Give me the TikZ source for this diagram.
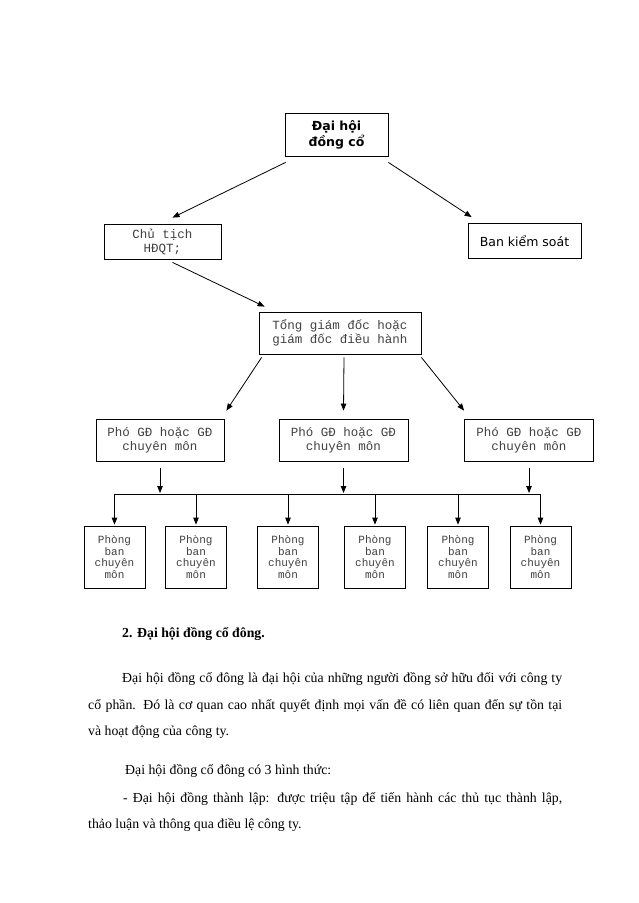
\documentclass[tikz,border=0pt]{standalone}
\usepackage{fontspec}
\setmainfont{Liberation Serif}
\newfontfamily\monof{Liberation Mono}
\newfontfamily\verd{DejaVu Sans}
\usetikzlibrary{arrows.meta,calc}
\tikzset{
  box/.style={draw,line width=0.8pt,inner sep=0pt,align=center},
  mono/.style={font=\monof\fontsize{12.5}{14}\selectfont,text=black!75},
  monosm/.style={font=\monof\fontsize{11}{11.8}\selectfont,text=black!75},
  arr/.style={-{Triangle[length=7pt,width=5.5pt]},line width=0.8pt},
  bodyline/.style={anchor=base west,inner sep=0pt,font=\fontsize{13.8}{16}\selectfont},
  phong/.style={box,monosm,minimum width=61,minimum height=62}
}
\begin{document}
\begin{tikzpicture}[x=1pt,y=-1pt]
\useasboundingbox (0,0) rectangle (638,903);
% top level
\node[box,font=\verd\bfseries\fontsize{12.5}{16}\selectfont,minimum width=103,minimum height=43] (dh) at (336.5,134.5) {Đại hội\\đồng cổ};
\node[box,mono,minimum width=117,minimum height=35] (ct) at (162.5,241.5) {Chủ tịch\\HĐQT;};
\node[box,font=\verd\fontsize{12.5}{14}\selectfont,minimum width=113,minimum height=35] (bks) at (524.5,241) {Ban kiểm soát};
\node[box,mono,minimum width=162,minimum height=42] (tgd) at (340,333) {Tổng giám đốc hoặc\\giám đốc điều hành};
\node[box,mono,minimum width=128,minimum height=42] (p1) at (160,440) {Phó GĐ hoặc GĐ\\chuyên môn};
\node[box,mono,minimum width=129,minimum height=42] (p2) at (343.5,440) {Phó GĐ hoặc GĐ\\chuyên môn};
\node[box,mono,minimum width=129,minimum height=42] (p3) at (529,440) {Phó GĐ hoặc GĐ\\chuyên môn};
\node[phong] (q1) at (114.5,557) {Phòng\\ban\\chuyên\\môn};
\node[phong] (q2) at (196,557) {Phòng\\ban\\chuyên\\môn};
\node[phong] (q3) at (288,557) {Phòng\\ban\\chuyên\\môn};
\node[phong] (q4) at (375,557) {Phòng\\ban\\chuyên\\môn};
\node[phong] (q5) at (458,557) {Phòng\\ban\\chuyên\\môn};
\node[phong] (q6) at (540.5,557) {Phòng\\ban\\chuyên\\môn};
\coordinate (bus) at (0,494);
% connectors
\draw[arr] ($(dh.south west)+(1,6)$) -- ($(ct.north)+(10,-6)$);
\draw[arr] ($(dh.south east)+(0,6)$) -- ($(bks.north west)+(4,-6)$);
\draw[arr] ($(ct.south)+(10,3)$) -- ($(tgd.north west)+(6,-5)$);
\draw[arr] ($(tgd.south west)+(3,3)$) -- ($(p1.north east)+(2,-8)$);
\draw[arr] ($(tgd.south)+(4,3)$) -- ($(p2.north)+(0,-8)$);
\draw[arr] ($(tgd.south east)+(0,3)$) -- ($(p3.north west)+(0,-8)$);
\draw[line width=0.8pt] (q1.north |- bus) -- (q6.north |- bus);
\foreach \p in {p1,p2,p3}
  \draw[arr] ($(\p.south)+(0,7)$) -- ($(\p.south |- bus)+(0,-1)$);
\foreach \q in {q1,q2,q3,q4,q5,q6}
  \draw[arr] (\q.north |- bus) -- ($(\q.north)+(0,-1)$);
% body text
\node[bodyline,font=\bfseries\fontsize{13.8}{16}\selectfont] (h) at (122,637) {2. Đại hội đồng cổ đông.};
\node[bodyline] (l1) at (122,682) {\makebox[440pt][s]{Đại hội đồng cổ đông là đại hội của những người đồng sở hữu đối với công ty}};
\node[bodyline] (l2) at (88,709) {\makebox[474pt][s]{cổ phần. Đó là cơ quan cao nhất quyết định mọi vấn đề có liên quan đến sự tồn tại}};
\node[bodyline] (l3) at (88,735) {và hoạt động của công ty.};
\node[bodyline] (l4) at (125,774) {Đại hội đồng cổ đông có 3 hình thức:};
\node[bodyline] (l5) at (123,802) {\makebox[439pt][s]{- Đại hội đồng thành lập: được triệu tập để tiến hành các thủ tục thành lập,}};
\node[bodyline] (l6) at (88,828) {thảo luận và thông qua điều lệ công ty.};
\end{tikzpicture}
\end{document}
